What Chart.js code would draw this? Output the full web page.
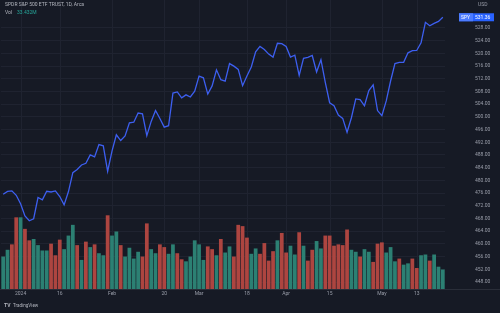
<!DOCTYPE html>
<html lang="en">
  <head>
    <meta charset="UTF-8" />
    <title>SPY 1D</title>
    <script src="https://cdn.jsdelivr.net/npm/chart.js"></script>
    <style>
      html, body { margin: 0; padding: 0; background: #161a25; }
      #wrap { width: 500px; height: 313px; }
    </style>
  </head>
  <body>
    <div id="wrap"><canvas id="spyChart" width="500" height="313"></canvas></div>

    <script>
      // trading days shown on the chart
      const dates = [
        "2023-12-26","2023-12-27","2023-12-28","2023-12-29",
        "2024-01-02","2024-01-03","2024-01-04","2024-01-05","2024-01-08","2024-01-09","2024-01-10","2024-01-11","2024-01-12",
        "2024-01-16","2024-01-17","2024-01-18","2024-01-19","2024-01-22","2024-01-23","2024-01-24","2024-01-25","2024-01-26",
        "2024-01-29","2024-01-30","2024-01-31",
        "2024-02-01","2024-02-02","2024-02-05","2024-02-06","2024-02-07","2024-02-08","2024-02-09","2024-02-12","2024-02-13",
        "2024-02-14","2024-02-15","2024-02-16","2024-02-20","2024-02-21","2024-02-22","2024-02-23","2024-02-26","2024-02-27",
        "2024-02-28","2024-02-29",
        "2024-03-01","2024-03-04","2024-03-05","2024-03-06","2024-03-07","2024-03-08","2024-03-11","2024-03-12","2024-03-13",
        "2024-03-14","2024-03-15","2024-03-18","2024-03-19","2024-03-20","2024-03-21","2024-03-22","2024-03-25","2024-03-26",
        "2024-03-27","2024-03-28",
        "2024-04-01","2024-04-02","2024-04-03","2024-04-04","2024-04-05","2024-04-08","2024-04-09","2024-04-10","2024-04-11",
        "2024-04-12","2024-04-15","2024-04-16","2024-04-17","2024-04-18","2024-04-19","2024-04-22","2024-04-23","2024-04-24",
        "2024-04-25","2024-04-26","2024-04-29","2024-04-30",
        "2024-05-01","2024-05-02","2024-05-03","2024-05-06","2024-05-07","2024-05-08","2024-05-09","2024-05-10","2024-05-13",
        "2024-05-14","2024-05-15","2024-05-16","2024-05-17","2024-05-20","2024-05-21"
      ];

      // daily close, USD
      const closes = [
        475.65, 476.51, 476.69, 475.31,
        472.65, 468.79, 467.28, 467.92, 474.60, 473.88, 476.56, 476.35, 476.68,
        474.93, 472.29, 476.49, 482.43, 483.45, 484.86, 485.39, 488.03, 487.41,
        491.27, 490.89, 482.88,
        489.20, 494.35, 492.55, 493.98, 498.10, 498.32, 501.20, 500.98, 494.08,
        498.57, 502.01, 499.51, 496.76, 497.21, 507.50, 507.85, 505.99, 506.93,
        506.26, 508.08,
        512.85, 512.30, 507.18, 509.75, 514.81, 511.72, 511.28, 516.78, 515.97,
        514.95, 509.83, 512.86, 515.71, 520.48, 522.20, 521.21, 519.77, 518.81,
        523.17, 523.07,
        522.16, 518.84, 519.41, 513.07, 518.43, 518.72, 519.32, 514.12, 518.00,
        510.85, 504.45, 503.53, 500.55, 499.52, 495.16, 499.72, 505.65, 505.41,
        503.49, 508.26, 510.06, 501.98,
        500.35, 505.03, 511.29, 516.78, 517.14, 517.19, 520.17, 520.84, 520.91,
        523.30, 529.78, 528.69, 529.45, 530.06, 531.36
      ];

      // daily volume, millions of shares
      const volumes = [
        55.7, 67.3, 76.6, 123.0, 123.0, 103.2, 83.5, 85.8, 75.3, 66.1, 66.1, 77.8, 57.9,
        84.7, 68.4, 91.7, 110.1, 75.3, 49.9, 81.3, 71.9, 76.6, 61.4, 57.9, 126.5, 91.7,
        98.7, 75.3, 55.7, 70.8, 52.2, 63.9, 55.7, 112.6, 68.4, 61.4, 76.6, 71.9, 60.4,
        76.6, 61.4, 51.0, 47.5, 55.7, 83.5, 76.6, 49.9, 73.1, 68.4, 57.9, 85.8, 62.6,
        73.1, 55.7, 110.1, 107.9, 88.2, 60.4, 69.6, 60.4, 78.8, 48.7, 64.9, 83.5, 96.2,
        62.6, 74.3, 59.2, 97.4, 74.3, 48.7, 67.3, 82.3, 69.6, 91.7, 91.7, 74.3, 76.6,
        75.3, 102.1, 67.3, 63.9, 55.7, 68.4, 63.9, 46.5, 77.8, 80.0, 62.6, 71.9, 47.5,
        52.2, 41.8, 44.0, 52.2, 36.0, 57.9, 59.2, 48.7, 59.2, 38.3, 33.432
      ];

      // 1 = up day (teal), 0 = down day (red)
      const upDay = [
        1,1,0,0,1,0,0,1,1,1,1,0,0,0,1,1,1,0,1,0,1,0,1,1,0,1,1,0,1,1,1,1,0,0,
        1,1,0,0,1,1,0,0,1,1,1,1,1,0,0,1,0,1,1,0,0,0,0,1,1,0,0,0,0,1,0,0,1,1,0,
        1,0,0,1,1,0,0,0,0,0,0,1,1,0,1,1,0,0,0,1,1,1,0,1,1,0,0,1,1,0,1,1,1
      ];

      const tickDates = ["2024-01-02","2024-01-16","2024-02-01","2024-02-20","2024-03-01",
                         "2024-03-18","2024-04-01","2024-04-15","2024-05-01","2024-05-13"];
      const tickText = ["2024","16","Feb","20","Mar","18","Apr","15","May","13"];

      const priceTicks = [448, 452, 456, 460, 464, 468, 472, 476, 480, 484, 488,
                          492, 496, 500, 504, 508, 512, 516, 520, 524, 528];

      const symbol = "SPY";
      const title = "SPDR S&P 500 ETF TRUST, 1D, Arca";

      const FONT = "Roboto, 'Liberation Sans', sans-serif";
      const GRID = "#1f2330";
      const TEXT = "#9a9eaa";

      const overlay = {
        id: "overlay",
        beforeDraw(chart) {
          const c = chart.ctx;
          c.save();
          c.fillStyle = "#161a25";
          c.fillRect(0, 0, chart.width, chart.height);
          c.restore();
        },
        beforeDatasetsDraw(chart) {
          // vertical grid lines at the labelled dates
          const c = chart.ctx;
          const a = chart.chartArea;
          const x = chart.scales.x;
          c.save();
          c.strokeStyle = GRID;
          c.lineWidth = 1;
          tickDates.forEach((d) => {
            const px = Math.round(x.getPixelForValue(dates.indexOf(d))) + 0.5;
            c.beginPath();
            c.moveTo(px, a.top);
            c.lineTo(px, a.bottom);
            c.stroke();
          });
          c.restore();
        },
        afterDraw(chart) {
          const c = chart.ctx;
          const a = chart.chartArea;
          const y = chart.scales.y;
          c.save();

          // pane border above the time axis
          c.strokeStyle = "#2a2e39";
          c.lineWidth = 1;
          c.beginPath();
          c.moveTo(0, a.bottom + 0.5);
          c.lineTo(chart.width, a.bottom + 0.5);
          c.stroke();

          // header
          c.textBaseline = "middle";
          c.textAlign = "left";
          c.font = "5px " + FONT;
          c.fillStyle = "#b2b5be";
          c.fillText(title, 5, 5);
          c.fillText("Vol", 5, 13);
          c.fillStyle = "#26a69a";
          const lastVol = volumes[volumes.length - 1];
          c.fillText(lastVol.toFixed(3) + "M", 17, 13);

          // currency
          c.fillStyle = TEXT;
          c.fillText("USD", 478, 5);

          // last price tag
          const last = closes[closes.length - 1];
          const py = y.getPixelForValue(last);
          c.fillStyle = "#2962ff";
          c.fillRect(459, py - 4, 35, 8);
          c.fillStyle = "#4d7cff";
          c.fillRect(459, py - 4, 14, 8);
          c.fillStyle = "#ffffff";
          c.fillText(symbol, 461, py + 0.3);
          c.fillText(last.toFixed(2), 475, py + 0.3);

          // watermark
          c.fillStyle = "#b2b5be";
          c.font = "bold 5px " + FONT;
          c.fillText("TV", 4, 306);
          c.font = "4.6px " + FONT;
          c.fillText("TradingView", 13, 306);
          c.restore();
        }
      };

      const ctx = document.getElementById("spyChart").getContext("2d");
      new Chart(ctx, {
        type: "bar",
        data: {
          labels: dates,
          datasets: [
            {
              type: "line",
              label: symbol,
              data: closes,
              yAxisID: "y",
              borderColor: "#3d5ff0",
              borderWidth: 1.3,
              pointRadius: 0,
              tension: 0,
              order: 0
            },
            {
              type: "bar",
              label: "Vol",
              data: volumes,
              yAxisID: "yv",
              backgroundColor: upDay.map((u) => (u ? "#2c8073" : "#ad4540")),
              barPercentage: 0.86,
              categoryPercentage: 1,
              order: 1
            }
          ]
        },
        options: {
          responsive: false,
          animation: false,
          layout: { padding: { left: 1, top: 0, right: 0, bottom: 0 } },
          plugins: { legend: { display: false }, tooltip: { enabled: false } },
          scales: {
            x: {
              offset: true,
              grid: { display: false, drawTicks: false },
              border: { display: false },
              ticks: {
                autoSkip: false,
                maxRotation: 0,
                padding: 2,
                color: TEXT,
                font: { size: 5, family: FONT },
                callback: (v, i) => {
                  const k = tickDates.indexOf(dates[i]);
                  return k >= 0 ? tickText[k] : null;
                }
              },
              afterFit: (s) => {
                s.height = 24;
                s.paddingLeft = 0;
                s.paddingRight = 0;
              }
            },
            y: {
              position: "right",
              min: 445.8,
              max: 536.8,
              afterBuildTicks: (s) => { s.ticks = priceTicks.map((v) => ({ value: v })); },
              afterFit: (s) => {
                s.width = 55;
                s.paddingTop = 0;
                s.paddingBottom = 0;
              },
              grid: { color: GRID, drawTicks: false },
              border: { display: false },
              ticks: {
                padding: 30,
                color: TEXT,
                font: { size: 5, family: FONT },
                callback: (v) => Number(v).toFixed(2)
              }
            },
            yv: {
              display: false,
              min: 0,
              max: 496
            }
          }
        },
        plugins: [overlay]
      });
    </script>
  </body>
</html>
